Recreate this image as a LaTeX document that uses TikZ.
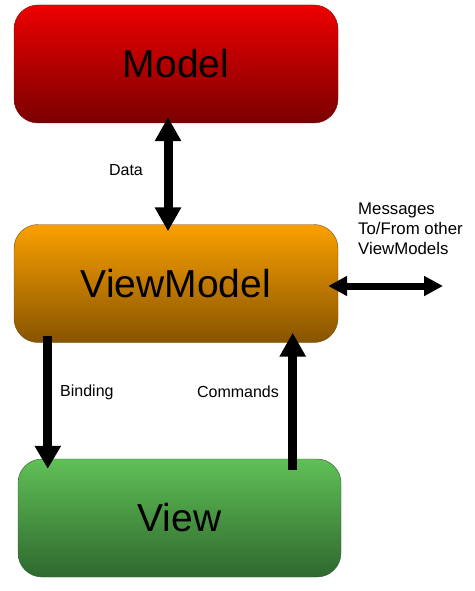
\documentclass[tikz,border=0pt]{standalone}
\usepackage{fontspec}
\setmainfont{Liberation Sans}
\usetikzlibrary{arrows.meta}
\tikzset{
	layer/.style={rounded corners=24pt, minimum width=324pt, minimum height=118pt, font=\fontsize{39}{47}\selectfont, inner sep=0pt},
	bigarrow/.style={line width=9pt, {Triangle[width=25pt,length=24pt]}-{Triangle[width=25pt,length=24pt]}},
	label/.style={font=\fontsize{16}{20}\selectfont, inner sep=0pt}
}

\begin{document}
\begin{tikzpicture}[x=1pt, y=-1pt]
		%%%%% START %%%%%
		
		\useasboundingbox (0, 0) rectangle (474, 591);
		
		\node[layer, top color={rgb,255:red,238;green,0;blue,0}, bottom color={rgb,255:red,122;green,0;blue,0}, draw={rgb,255:red,110;green,20;blue,10}] (model) at (176, 64) {Model};
		\node[layer, top color={rgb,255:red,250;green,160;blue,0}, bottom color={rgb,255:red,135;green,84;blue,0}, draw={rgb,255:red,120;green,80;blue,20}] (vm) at (176, 283.5) {ViewModel};
		\node[layer, minimum width=323pt, top color={rgb,255:red,96;green,192;blue,86}, bottom color={rgb,255:red,46;green,104;blue,46}, draw={rgb,255:red,50;green,90;blue,50}] (view) at (179.5, 518) {View};
		
		\node[label] (data) at (126, 170) {Data};
		\node[label, anchor=west] (binding) at (60, 392) {Binding};
		\node[label] (commands) at (238, 392) {Commands};
		\node[label, font=\fontsize{16.8}{19.8}\selectfont, anchor=west, align=left] (msgtext) at (358, 229) {Messages\\To/From other\\ViewModels};
		
		\coordinate (msg) at (443, 286);
		
		\draw[bigarrow] ([xshift=-8pt, yshift=6pt]model.south) -- ([xshift=-8pt, yshift=-7pt]vm.north);
		\draw[bigarrow, -{Triangle[width=25pt,length=23pt]}] ([xshift=34pt, yshift=7pt]vm.south west) -- ([xshift=30pt, yshift=-10pt]view.north west);
		\draw[bigarrow, -{Triangle[width=25pt,length=24pt]}] ([xshift=-48.5pt, yshift=-11pt]view.north east) -- ([xshift=-45.5pt, yshift=10pt]vm.south east);
		\draw[line width=7pt, {Triangle[width=19pt,length=19pt]}-{Triangle[width=19pt,length=19pt]}] ([xshift=-10pt, yshift=-2.5pt]vm.east) -- (msg);
		
		%%%%% END %%%%%
	\end{tikzpicture}
\end{document}
